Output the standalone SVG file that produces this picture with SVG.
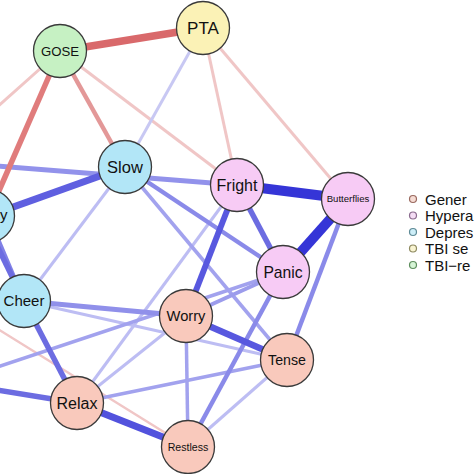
<svg xmlns="http://www.w3.org/2000/svg" width="474" height="474" viewBox="0 0 474 474">
<style>
.e{fill:none}
.r1{stroke:#D9696B;stroke-width:7.5}
.r2{stroke:#E07C7C;stroke-width:5.5}
.r3{stroke:#E39898;stroke-width:4.5}
.rl{stroke:#F0C6C6;stroke-width:3}
.b1{stroke:#3535D7;stroke-width:10}
.b2{stroke:#5858DF;stroke-width:6.5}
.b3{stroke:#6C6CE1;stroke-width:5.5}
.b4{stroke:#8A8AE9;stroke-width:4.5}
.b5{stroke:#A2A2EE;stroke-width:3.5}
.b6{stroke:#BDBDF3;stroke-width:3}
.n circle{stroke:#3a3a3a;stroke-width:1.3}
.n text{font-family:"Liberation Sans",Arial,sans-serif;fill:#111;text-anchor:middle}
.g{fill:#F9C9BC}.h{fill:#F7CBF5}.d{fill:#B2E6F7}.s{fill:#FBF2B6}.t{fill:#C6F1C3}
.lg circle{stroke-width:1.2}
.lg text{font-family:"Liberation Sans",Arial,sans-serif;font-size:15px;fill:#111}
</style>
<g id="edges" class="e">
<line class="rl" x1="-20" y1="318" x2="188" y2="447" style="stroke-width:2.5"/>
<line class="rl" x1="60" y1="51" x2="-40" y2="140"/>
<line class="rl" x1="60" y1="51" x2="237" y2="185"/>
<line class="rl" x1="203" y1="28" x2="237" y2="185"/>
<line class="rl" x1="203" y1="28" x2="348" y2="199"/>
<line class="b6" x1="203" y1="28" x2="125" y2="167" style="stroke:#C8C8F3"/>
<line class="b6" x1="125" y1="167" x2="24" y2="301"/>
<line class="b6" x1="237" y1="185" x2="77" y2="403"/>
<line class="b6" x1="24" y1="301" x2="287" y2="360"/>
<line class="b6" x1="186" y1="316" x2="77" y2="403"/>
<line class="b6" x1="287" y1="360" x2="188" y2="447"/>
<line class="b5" x1="125" y1="167" x2="287" y2="360"/>
<line class="b5" x1="186" y1="316" x2="188" y2="447"/>
<line class="b5" x1="77" y1="403" x2="287" y2="360"/>
<line class="b5" x1="-30" y1="376" x2="283" y2="272"/>
<line class="b5" x1="186" y1="316" x2="283" y2="272" style="stroke:#9C9CEC;stroke-width:4"/>
<line class="b4" x1="-12" y1="216" x2="24" y2="301" style="stroke:#8080E6"/>
<line class="b4" x1="-40" y1="163" x2="237" y2="185" style="stroke:#9292EB;stroke-width:5"/>
<line class="b4" x1="125" y1="167" x2="283" y2="272"/>
<line class="b4" x1="24" y1="301" x2="186" y2="316" style="stroke:#9090EA;stroke-width:5"/>
<line class="b4" x1="283" y1="272" x2="188" y2="447"/>
<line class="b4" x1="348" y1="199" x2="287" y2="360"/>
<line class="b3" x1="237" y1="185" x2="283" y2="272"/>
<line class="b3" x1="24" y1="301" x2="77" y2="403"/>
<line class="b3" x1="-40" y1="384" x2="77" y2="403"/>
<line class="b3" x1="-35" y1="180" x2="24" y2="301"/>
<line class="r3" x1="60" y1="51" x2="125" y2="167"/>
<line class="r2" x1="60" y1="51" x2="-12" y2="216"/>
<line class="r1" x1="60" y1="51" x2="203" y2="28"/>
<line class="b2" x1="237" y1="185" x2="186" y2="316" style="stroke-width:6"/>
<line class="b2" x1="186" y1="316" x2="287" y2="360"/>
<line class="b2" x1="77" y1="403" x2="188" y2="447" style="stroke:#5252DD;stroke-width:7"/>
<line class="b2" x1="125" y1="167" x2="-12" y2="216" style="stroke:#5F5FE0;stroke-width:7"/>
<line class="b1" x1="237" y1="185" x2="348" y2="199"/>
<line class="b1" x1="348" y1="199" x2="283" y2="272"/>
</g>
<g id="node-GOSE" class="n"><circle class="t" cx="60" cy="51" r="26.5"/><text x="60" y="55.6" font-size="13.2">GOSE</text></g>
<g id="node-PTA" class="n"><circle class="s" cx="203" cy="28" r="26.5"/><text x="203" y="34" font-size="17">PTA</text></g>
<g id="node-Slow" class="n"><circle class="d" cx="125" cy="167" r="26.5"/><text x="125" y="172.8" font-size="16.5">Slow</text></g>
<g id="node-Enjoy" class="n"><circle class="d" cx="-12" cy="216" r="26.5"/><text x="0" y="220" font-size="15" style="text-anchor:start">y</text></g>
<g id="node-Cheer" class="n"><circle class="d" cx="24" cy="301" r="26.5"/><text x="24" y="306.2" font-size="15">Cheer</text></g>
<g id="node-Fright" class="n"><circle class="h" cx="237" cy="185" r="26.5"/><text x="237" y="190.6" font-size="16">Fright</text></g>
<g id="node-Butterflies" class="n"><circle class="h" cx="348" cy="199" r="26.5"/><text x="348" y="202.4" font-size="9.6">Butterflies</text></g>
<g id="node-Panic" class="n"><circle class="h" cx="283" cy="272" r="26.5"/><text x="283" y="277.5" font-size="15.7">Panic</text></g>
<g id="node-Worry" class="n"><circle class="g" cx="186" cy="316" r="26.5"/><text x="186" y="321.1" font-size="14.7">Worry</text></g>
<g id="node-Tense" class="n"><circle class="g" cx="287" cy="360" r="26.5"/><text x="287" y="365" font-size="14.2">Tense</text></g>
<g id="node-Relax" class="n"><circle class="g" cx="77" cy="403" r="26.5"/><text x="77" y="408.6" font-size="16">Relax</text></g>
<g id="node-Restless" class="n"><circle class="g" cx="188" cy="447" r="26.5"/><text x="188" y="450.7" font-size="10.6">Restless</text></g>
<g id="legend" class="lg">
<circle cx="413" cy="199" r="3.5" fill="#F6DCD4" stroke="#9A6A60"/><text x="425" y="204.5">Gener</text>
<circle cx="413" cy="215.5" r="3.5" fill="#F4DCF4" stroke="#8A6A8E"/><text x="425" y="221">Hypera</text>
<circle cx="413" cy="232" r="3.5" fill="#CDEEF8" stroke="#5E8A96"/><text x="425" y="237.5">Depres</text>
<circle cx="413" cy="248.5" r="3.5" fill="#F9F4D2" stroke="#8E8A60"/><text x="425" y="254">TBI se</text>
<circle cx="413" cy="265" r="3.5" fill="#D6F4D6" stroke="#5E8E5E"/><text x="425" y="270.5">TBI−re</text>
</g>
</svg>
